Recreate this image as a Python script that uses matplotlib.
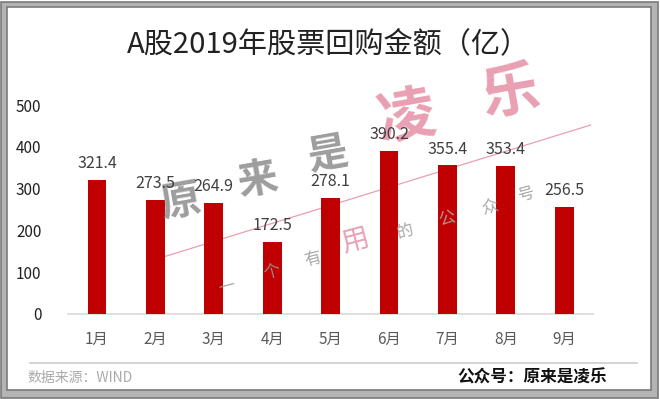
import matplotlib
matplotlib.use("Agg")
import matplotlib.pyplot as plt
from matplotlib.patches import Rectangle
from matplotlib.lines import Line2D

plt.rcParams["font.family"] = ["Noto Sans CJK SC", "DejaVu Sans"]

months = ["1月", "2月", "3月", "4月", "5月", "6月", "7月", "8月", "9月"]
amounts = [321.4, 273.5, 264.9, 172.5, 278.1, 390.2, 355.4, 353.4, 256.5]
y_ticks = [0, 100, 200, 300, 400, 500]

# decorative rising line (data coords)
deco_x = [1.08, 8.45]
deco_y = [134, 452]

W, H = 660, 399
fig = plt.figure(figsize=(W / 100, H / 100), dpi=100)


def px(x, y):
    return x / W, 1 - y / H


# frame
fig.patches.append(Rectangle((1 / W, 1 / H), 657 / W, 396 / H, transform=fig.transFigure,
                             facecolor="#b4b4b4", edgecolor="#7a7a7a", lw=1.2, zorder=-2))
fig.patches.append(Rectangle((7 / W, 9 / H), 644 / W, 383 / H, transform=fig.transFigure,
                             facecolor="white", edgecolor="#7a7a7a", lw=1.2, zorder=-1))

ax = fig.add_axes([67.8 / W, (H - 314) / H, 525.6 / W, 209 / H])
ax.set_facecolor("none")
x = range(len(months))
ax.bar(x, amounts, width=0.32, color="#C00000", zorder=3)
for i, v in zip(x, amounts):
    ax.text(i, v + 19, f"{v}", ha="center", va="bottom", fontsize=11.5, color="#404040", zorder=4)

ax.plot(deco_x, deco_y, color="#e8a0b0", lw=0.9, zorder=2)

ax.set_xlim(-0.5, len(months) - 0.5)
ax.set_ylim(0, 500)
ax.set_yticks(y_ticks)
ax.set_yticklabels([str(t) for t in y_ticks], fontsize=11, color="#222222")
ax.set_xticks(list(x))
ax.set_xticklabels(months, fontsize=11, color="#595959")
ax.tick_params(axis="y", length=0, pad=19)
ax.tick_params(axis="x", length=0, pad=12)
for s in ["top", "right", "left"]:
    ax.spines[s].set_visible(False)
ax.spines["bottom"].set_color("#d9d9d9")
ax.spines["bottom"].set_linewidth(1.2)

# title
fig.text(*px(328, 44), "A股2019年股票回购金额（亿）", ha="center", va="center",
         fontsize=21, color="#222222")

# watermark: over the bars, under the value labels
big = [("原", 180, 202, "#8c8c8c", 29), ("来", 257, 180, "#8c8c8c", 29),
       ("是", 327, 155, "#8c8c8c", 29), ("凌", 407, 118, "#e58fa5", 42),
       ("乐", 510, 93, "#e58fa5", 42)]
for ch, xx, yy, c, fs in big:
    ax.text(*px(xx, yy), ch, ha="center", va="center", fontsize=fs, color=c,
            alpha=0.85, rotation=10, fontweight="bold", zorder=3.5,
            transform=fig.transFigure, clip_on=False)
small = [("一", 227, 287, "#9a9a9a"), ("个", 272, 273, "#9a9a9a"), ("有", 313, 260, "#9a9a9a"),
         ("用", 355, 240, "#e58fa5"), ("的", 405, 232, "#9a9a9a"), ("公", 447, 218, "#b0b0b0"),
         ("众", 490, 207, "#9a9a9a"), ("号", 527, 195, "#9a9a9a")]
for ch, xx, yy, c in small:
    fs = 20 if ch == "用" else 12
    ax.text(*px(xx, yy), ch, ha="center", va="center", fontsize=fs, color=c,
            alpha=0.85, rotation=15, zorder=3.5, transform=fig.transFigure, clip_on=False)

# footer
fig.add_artist(Line2D([30 / W, 637 / W], [1 - 363 / H] * 2, color="#d0d0d0", lw=1.3,
                      transform=fig.transFigure))
fig.text(*px(27, 378), "数据来源：WIND", ha="left", va="center", fontsize=10, color="#aaaaaa")
fig.text(*px(607, 378), "公众号：原来是凌乐", ha="right", va="center", fontsize=12,
         color="#111111", fontweight="bold")

fig.savefig("out.png", dpi=100)
